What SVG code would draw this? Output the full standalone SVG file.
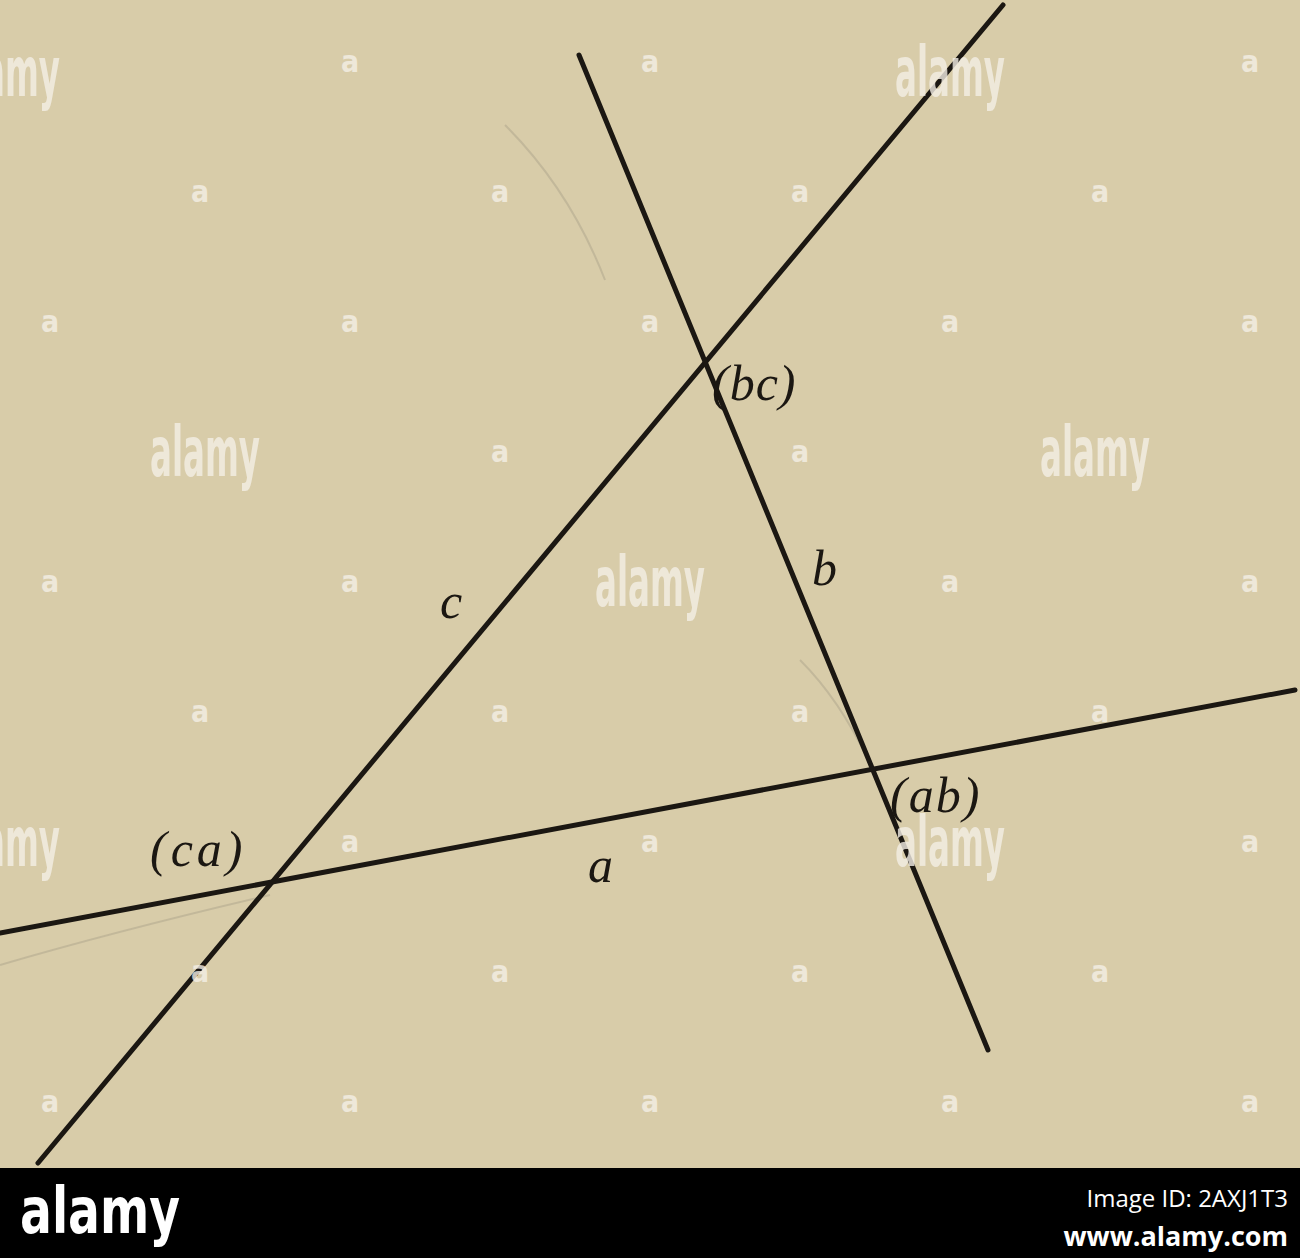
<svg xmlns="http://www.w3.org/2000/svg" width="1300" height="1258" viewBox="0 0 1300 1258">
<style>
.ln{stroke:#1b1712;stroke-width:5;stroke-linecap:round;fill:none}
.lb{font-family:"Liberation Serif",serif;font-style:italic;font-size:50px;fill:#1b1712}
.wm{font-family:"DejaVu Sans",sans-serif;font-weight:bold;font-stretch:condensed;fill:#f4efe6;opacity:0.8}
.wa{font-size:30px}
.wb{font-size:70px}
</style>
<rect x="0" y="0" width="1300" height="1168" fill="#d8cca9"/>
<g id="pencil" fill="none" stroke="#9a937f" stroke-width="2" opacity="0.35">
<path d="M505 125 Q570 190 605 280"/>
<path d="M800 660 Q840 700 868 760"/>
<path d="M0 965 Q120 930 270 895"/>
</g>
<g id="connectors">
<line id="line-c" class="ln" x1="38" y1="1163" x2="1003" y2="5"/>
<line id="line-b" class="ln" x1="579" y1="55" x2="988" y2="1050"/>
<line id="line-a" class="ln" x1="0" y1="933" x2="1295" y2="690"/>
</g>
<g id="node-bc"><text class="lb" x="712" y="400" letter-spacing="1">(bc)</text></g>
<g id="node-b"><text class="lb" x="812" y="585">b</text></g>
<g id="node-c"><text class="lb" x="440" y="618">c</text></g>
<g id="node-ca"><text class="lb" x="150" y="866" font-size="56" letter-spacing="4">(ca)</text></g>
<g id="node-a"><text class="lb" x="588" y="882">a</text></g>
<g id="node-ab"><text class="lb" x="890" y="812" letter-spacing="2">(ab)</text></g>
<g id="watermark">
<text class="wm wb" x="-50" y="96" textLength="110" lengthAdjust="spacingAndGlyphs">alamy</text>
<text class="wm wb" x="895" y="96" textLength="110" lengthAdjust="spacingAndGlyphs">alamy</text>
<text class="wm wb" x="150" y="476" textLength="110" lengthAdjust="spacingAndGlyphs">alamy</text>
<text class="wm wb" x="1040" y="476" textLength="110" lengthAdjust="spacingAndGlyphs">alamy</text>
<text class="wm wb" x="595" y="606" textLength="110" lengthAdjust="spacingAndGlyphs">alamy</text>
<text class="wm wb" x="-50" y="866" textLength="110" lengthAdjust="spacingAndGlyphs">alamy</text>
<text class="wm wb" x="895" y="866" textLength="110" lengthAdjust="spacingAndGlyphs">alamy</text>
<g class="wm wa" text-anchor="middle">
<text x="350" y="72">a</text><text x="650" y="72">a</text><text x="1250" y="72">a</text>
<text x="200" y="202">a</text><text x="500" y="202">a</text><text x="800" y="202">a</text><text x="1100" y="202">a</text>
<text x="50" y="332">a</text><text x="350" y="332">a</text><text x="650" y="332">a</text><text x="950" y="332">a</text><text x="1250" y="332">a</text>
<text x="500" y="462">a</text><text x="800" y="462">a</text>
<text x="50" y="592">a</text><text x="350" y="592">a</text><text x="950" y="592">a</text><text x="1250" y="592">a</text>
<text x="200" y="722">a</text><text x="500" y="722">a</text><text x="800" y="722">a</text><text x="1100" y="722">a</text>
<text x="350" y="852">a</text><text x="650" y="852">a</text><text x="1250" y="852">a</text>
<text x="200" y="982">a</text><text x="500" y="982">a</text><text x="800" y="982">a</text><text x="1100" y="982">a</text>
<text x="50" y="1112">a</text><text x="350" y="1112">a</text><text x="650" y="1112">a</text><text x="950" y="1112">a</text><text x="1250" y="1112">a</text>
</g>
</g>
<g id="footer">
<rect x="0" y="1168" width="1300" height="90" fill="#000"/>
<text x="20" y="1233" font-family="DejaVu Sans,sans-serif" font-weight="bold" font-size="64" fill="#fff" textLength="160" lengthAdjust="spacingAndGlyphs">alamy</text>
<text x="1288" y="1207" text-anchor="end" font-family="Open Sans,DejaVu Sans,sans-serif" font-size="24" fill="#fff">Image ID: 2AXJ1T3</text>
<text x="1288" y="1246" text-anchor="end" font-family="Open Sans,DejaVu Sans,sans-serif" font-weight="bold" font-size="27" fill="#fff">www.alamy.com</text>
</g>
</svg>
